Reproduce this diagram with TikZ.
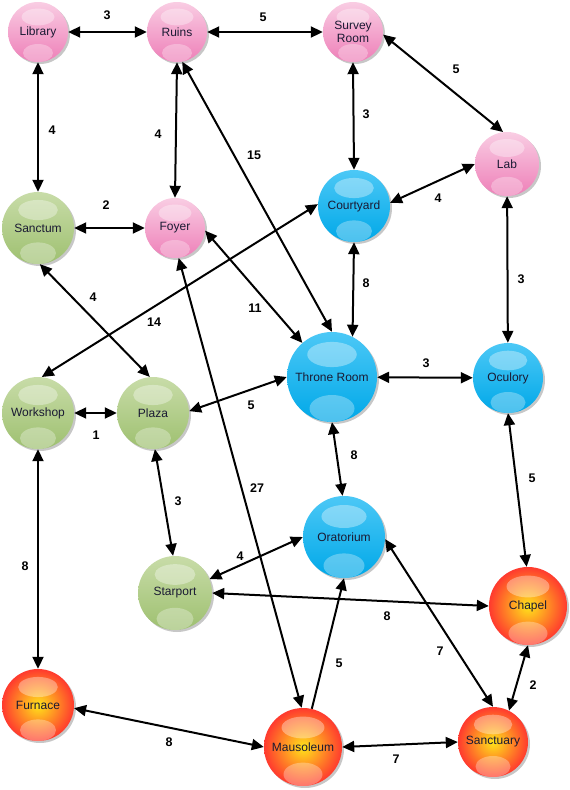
\documentclass[tikz,border=0pt]{standalone}
\usepackage{fontspec}
\setmainfont{Liberation Sans}
\usetikzlibrary{arrows.meta,shadows}
\definecolor{pinkA}{HTML}{F9CDE3}
\definecolor{pinkB}{HTML}{EE7FB8}
\definecolor{greenA}{HTML}{C8DCA8}
\definecolor{greenB}{HTML}{9EC070}
\definecolor{blueA}{HTML}{4CC8F6}
\definecolor{blueB}{HTML}{00A8E8}
\definecolor{redA}{HTML}{FFE41A}
\definecolor{redB}{HTML}{FF3A2E}
\definecolor{txt}{HTML}{1A1A33}
\begin{document}
\begin{tikzpicture}[x=1pt,y=-1pt,
  sphere/.style={circle, inner sep=0pt, minimum size=2*#1, text=txt,
    font=\fontsize{12}{13.5}\selectfont, align=center,
    drop shadow={shadow xshift=2pt, shadow yshift=-2pt, opacity=0.22, fill=black},
    path picture={
      \fill[white, fill opacity=0.35] ([yshift=-0.5pt*#1]path picture bounding box.north) ellipse ({0.55pt*#1} and {0.28pt*#1});
      \fill[white, fill opacity=0.3] ([yshift=0.3pt*#1]path picture bounding box.south) ellipse ({0.5pt*#1} and {0.3pt*#1});
    }},
  pinkball/.style={sphere=#1, top color=pinkA, bottom color=pinkB},
  greenball/.style={sphere=#1, top color=greenA, bottom color=greenB},
  blueball/.style={sphere=#1, top color=blueA, bottom color=blueB},
  redball/.style={sphere=#1, shading=radial, inner color=redA, outer color=redB},
  dbl/.style={line width=2pt, {Triangle[length=12pt,width=11pt]}-{Triangle[length=12pt,width=11pt]}},
  one/.style={line width=2pt, -{Triangle[length=12pt,width=11pt]}},
  lbl/.style={font=\bfseries\fontsize{12.5}{14}\selectfont, inner sep=0pt}
]
\useasboundingbox (0,0) rectangle (570,790);

% nodes
\node[pinkball=30] (lib) at (38,32) {Library};
\node[pinkball=30] (ruins) at (177,32) {Ruins};
\node[pinkball=30] (survey) at (353,32) {Survey\\Room};
\node[pinkball=32] (lab) at (507,164) {Lab};
\node[pinkball=30] (foyer) at (175,228) {Foyer};
\node[greenball=36] (sanctum) at (38,228) {Sanctum};
\node[greenball=36] (workshop) at (38,413) {Workshop};
\node[greenball=36] (plaza) at (153,413) {Plaza};
\node[greenball=37] (starport) at (175,593) {Starport};
\node[blueball=36] (court) at (354,206) {Courtyard};
\node[blueball=45] (throne) at (332,377) {Throne Room};
\node[blueball=35] (oculory) at (508,378) {Oculory};
\node[blueball=41] (orat) at (344,537) {Oratorium};
\node[redball=39] (chapel) at (528,606) {Chapel};
\node[redball=36] (furnace) at (38,705) {Furnace};
\node[redball=39] (maus) at (303,747) {Mausoleum};
\node[redball=35] (sanct) at (493,742) {Sanctuary};

% edges
\draw[dbl] (lib) -- (ruins);
\draw[dbl] (ruins) -- (survey);
\draw[dbl] (lib) -- (sanctum);
\draw[dbl] (ruins.270) -- (foyer.90);
\draw[dbl] (ruins.-80) -- (throne.90);
\draw[dbl] (survey.270) -- (court.90);
\draw[dbl] (survey.-5) -- (lab.97);
\draw[dbl] (lab.180) -- (court.5);
\draw[dbl] (sanctum) -- (foyer);
\draw[dbl] (court.177) -- (workshop.84);
\draw[dbl] (sanctum.-87) -- (plaza.95);
\draw[dbl] (foyer.-5) -- (throne.131);
\draw[dbl] (court.270) -- (throne.63);
\draw[dbl] (lab) -- (oculory);
\draw[dbl] (throne) -- (oculory);
\draw[dbl] (workshop) -- (plaza);
\draw[dbl] (plaza.3) -- (throne.180);
\draw[dbl] (throne.270) -- (orat.92);
\draw[dbl] (foyer.-83) -- (maus.92);
\draw[dbl] (plaza.-87) -- (starport.93);
\draw[dbl] (oculory.270) -- (chapel.92);
\draw[dbl] (workshop) -- (furnace);
\draw[dbl] (starport.22) -- (orat.180);
\draw[dbl] (starport.0) -- (chapel.180);
\draw[dbl] (orat.-3) -- (sanct.90);
\draw[one] (maus.77) -- (orat.270);
\draw[dbl] (chapel.270) -- (sanct.63);
\draw[dbl] (furnace.-5) -- (maus.180);
\draw[dbl] (maus.0) -- (sanct.180);

% labels
\node[lbl] (l1) at (107,15) {3};
\node[lbl] (l2) at (263,17) {5};
\node[lbl] (l3) at (52,130) {4};
\node[lbl] (l4) at (158,134) {4};
\node[lbl] (l5) at (254,155) {15};
\node[lbl] (l6) at (366,114) {3};
\node[lbl] (l7) at (456,69) {5};
\node[lbl] (l8) at (438,198) {4};
\node[lbl] (l9) at (106,205) {2};
\node[lbl] (l10) at (154,322) {14};
\node[lbl] (l11) at (93,297) {4};
\node[lbl] (l12) at (255,308) {11};
\node[lbl] (l13) at (366,283) {8};
\node[lbl] (l14) at (521,279) {3};
\node[lbl] (l15) at (426,363) {3};
\node[lbl] (l16) at (96,435) {1};
\node[lbl] (l17) at (251,405) {5};
\node[lbl] (l18) at (354,455) {8};
\node[lbl] (l19) at (257,488) {27};
\node[lbl] (l20) at (178,501) {3};
\node[lbl] (l21) at (532,478) {5};
\node[lbl] (l22) at (25,566) {8};
\node[lbl] (l23) at (240,556) {4};
\node[lbl] (l24) at (387,616) {8};
\node[lbl] (l25) at (440,651) {7};
\node[lbl] (l26) at (339,663) {5};
\node[lbl] (l27) at (533,685) {2};
\node[lbl] (l28) at (169,742) {8};
\node[lbl] (l29) at (396,759) {7};
\end{tikzpicture}
\end{document}
